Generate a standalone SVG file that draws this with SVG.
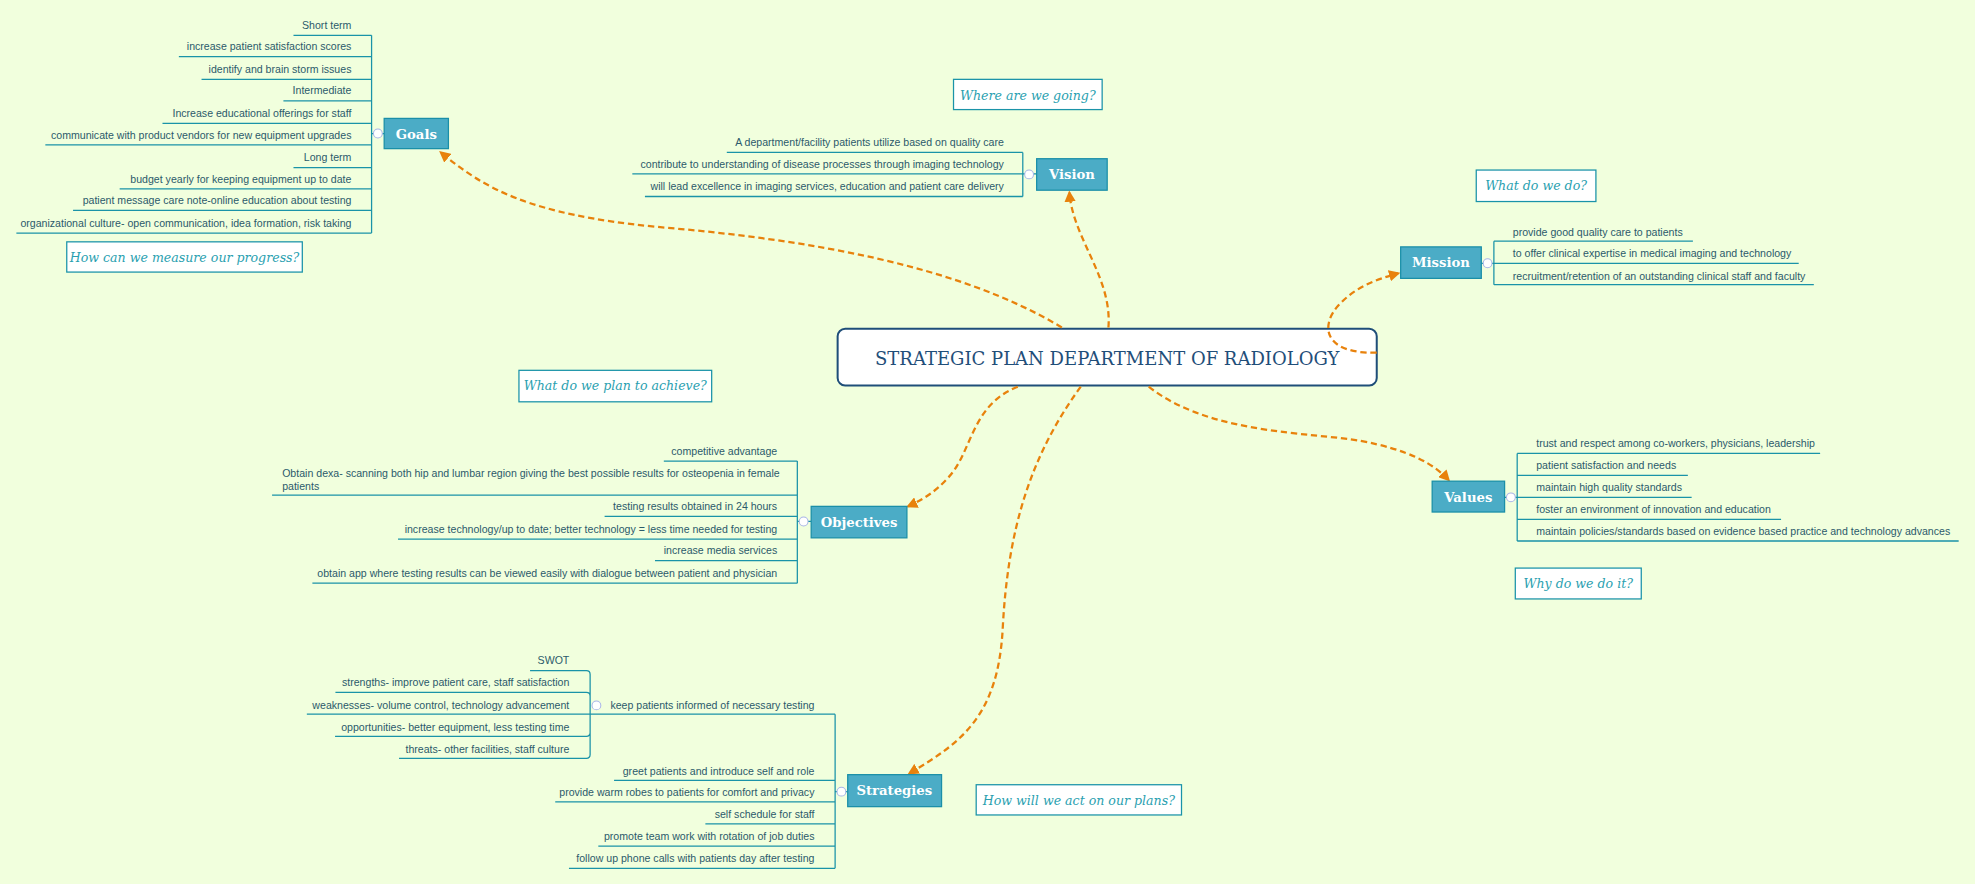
<svg xmlns="http://www.w3.org/2000/svg" width="1975" height="884" viewBox="0 0 1975 884">
<defs>
<marker id="ah" viewBox="0 0 10 10" refX="8" refY="5" markerWidth="5" markerHeight="5" orient="auto-start-reverse"><path d="M0,0L10,5L0,10z" fill="#e8820c"/></marker>
<style>
.t{font-family:"Liberation Sans",Arial,sans-serif;font-size:8.4px;fill:#2b5a6b}
.e{text-anchor:end}
.ln{stroke:#1a93a8;stroke-width:1;fill:none}
.nb{fill:#4bacc6;stroke:#1a8fa8;stroke-width:1}
.nt{font-family:"DejaVu Serif","Liberation Serif",serif;font-weight:bold;font-size:10.5px;fill:#fff;text-anchor:middle}
.qb{fill:#fff;stroke:#1a93a8;stroke-width:1}
.qt{font-family:"DejaVu Serif","Liberation Serif",serif;font-style:italic;font-size:10px;fill:#2a9fb0;text-anchor:middle}
.cc{fill:#fff;stroke:#a8b4e8;stroke-width:0.8}
.cn{stroke:#e8820c;stroke-width:1.8;fill:none;stroke-dasharray:5,3;marker-end:url(#ah)}
</style>
</defs>
<rect width="1975" height="884" fill="#f1ffdd"/>
<g transform="scale(1.2596)">
<g id="root">
<rect x="665" y="261" width="428" height="45" rx="6" fill="#fff" stroke="#1f4e79" stroke-width="1.6"/>
<text x="879" y="290" text-anchor="middle" font-family="DejaVu Serif,Liberation Serif,serif" font-size="14.3" fill="#1f4e79">STRATEGIC PLAN DEPARTMENT OF RADIOLOGY</text>
</g>
<g id="connectors">
<path class="cn" d="M843,260 C760,210 640,190 520,180 C420,170 385,150 350,121"/>
<path class="cn" d="M880,260 C883,220 852,190 849,153"/>
<path class="cn" d="M1093,280 C1050,281 1048,258 1063,242 C1076,228 1092,222 1110,217"/>
<path class="cn" d="M912,307 C960,345 1040,343 1080,350 C1118,357 1138,368 1150,381"/>
<path class="cn" d="M808,307 C770,322 772,360 752,380 C742,391 732,397 721,402"/>
<path class="cn" d="M858,307 C818,362 800,420 796,500 C792,570 762,590 722,614"/>
</g>
<g id="goals">
<path class="ln" d="M295,28V185M233,28H295M142,45H295M160,63H295M225,80H295M129,98H295M36,115H295M233,133H295M95,150H295M58,167H295M13,185H295M295,106H305"/>
<circle class="cc" cx="300" cy="106" r="3.5"/>
<rect class="nb" x="305" y="94" width="51" height="24"/><text class="nt" x="330.5" y="110">Goals</text>
<g class="t e">
<text x="279" y="23">Short term</text>
<text x="279" y="40">increase patient satisfaction scores</text>
<text x="279" y="58">identify and brain storm issues</text>
<text x="279" y="75">Intermediate</text>
<text x="279" y="93">Increase educational offerings for staff</text>
<text x="279" y="110">communicate with product vendors for new equipment upgrades</text>
<text x="279" y="128">Long term</text>
<text x="279" y="145">budget yearly for keeping equipment up to date</text>
<text x="279" y="162">patient message care note-online education about testing</text>
<text x="279" y="180">organizational culture- open communication, idea formation, risk taking</text>
</g>
</g>
<g id="q-goals"><rect class="qb" x="53" y="192" width="187" height="24"/><text class="qt" x="146.5" y="208">How can we measure our progress?</text></g>
<g id="vision">
<path class="ln" d="M812,121V156M577,121H812M502,138H823M512,156H812"/>
<circle class="cc" cx="817" cy="138.5" r="3.5"/>
<rect class="nb" x="823" y="126" width="56" height="25"/><text class="nt" x="851" y="142">Vision</text>
<g class="t e">
<text x="797" y="116">A department/facility patients utilize based on quality care</text>
<text x="797" y="133">contribute to understanding of disease processes through imaging technology</text>
<text x="797" y="151">will lead excellence in imaging services, education and patient care delivery</text>
</g>
</g>
<g id="q-vision"><rect class="qb" x="757" y="63" width="118" height="24"/><text class="qt" x="816" y="79">Where are we going?</text></g>
<g id="mission">
<path class="ln" d="M1186,191.5V226M1186,191.5H1344M1176,209H1428M1186,226H1440"/>
<circle class="cc" cx="1181" cy="209" r="3.5"/>
<rect class="nb" x="1112" y="196" width="64" height="25"/><text class="nt" x="1144" y="212">Mission</text>
<g class="t">
<text x="1201" y="187">provide good quality care to patients</text>
<text x="1201" y="204">to offer clinical expertise in medical imaging and technology</text>
<text x="1201" y="222">recruitment/retention of an outstanding clinical staff and faculty</text>
</g>
</g>
<g id="q-mission"><rect class="qb" x="1172" y="135" width="95" height="25"/><text class="qt" x="1219.5" y="151">What do we do?</text></g>
<g id="values">
<path class="ln" d="M1204.5,360V429.5M1204.5,360H1445M1204.5,377.4H1340M1194.5,394.8H1343M1204.5,412.3H1414M1204.5,429.5H1555"/>
<circle class="cc" cx="1199.5" cy="394.8" r="3.5"/>
<rect class="nb" x="1137" y="382" width="57.5" height="24.5"/><text class="nt" x="1165.7" y="398.5">Values</text>
<g class="t">
<text x="1219.6" y="355">trust and respect among co-workers, physicians, leadership</text>
<text x="1219.6" y="372.5">patient satisfaction and needs</text>
<text x="1219.6" y="390">maintain high quality standards</text>
<text x="1219.6" y="407.5">foster an environment of innovation and education</text>
<text x="1219.6" y="425">maintain policies/standards based on evidence based practice and technology advances</text>
</g>
</g>
<g id="q-values"><rect class="qb" x="1203" y="451" width="100" height="24.5"/><text class="qt" x="1253" y="467">Why do we do it?</text></g>
<g id="objectives">
<path class="ln" d="M633,366V463M527,366H633M216,393H633M480,410H633M316,428H633M520,445H633M248,463H633M633,414H644"/>
<circle class="cc" cx="638" cy="414" r="3.5"/>
<rect class="nb" x="644" y="402" width="76" height="25"/><text class="nt" x="682" y="418">Objectives</text>
<g class="t">
<text class="e" x="617" y="361">competitive advantage</text>
<text x="224" y="379">Obtain dexa- scanning both hip and lumbar region giving the best possible results for osteopenia in female</text>
<text x="224" y="389">patients</text>
<text class="e" x="617" y="405">testing results obtained in 24 hours</text>
<text class="e" x="617" y="423">increase technology/up to date; better technology = less time needed for testing</text>
<text class="e" x="617" y="440">increase media services</text>
<text class="e" x="617" y="458">obtain app where testing results can be viewed easily with dialogue between patient and physician</text>
</g>
</g>
<g id="q-objectives"><rect class="qb" x="412" y="294" width="153" height="25"/><text class="qt" x="488.5" y="310">What do we plan to achieve?</text></g>
<g id="strategies">
<path class="ln" d="M663,567V689.4M243.6,567H663M487.5,619.5H663M440.8,636.7H663M560,654H663M475,671.7H663M451.7,689.4H663M663,628.5H673"/>
<path class="ln" d="M420.8,532.5H465.5Q468.5,532.5 468.5,535.5V599Q468.5,602 465.5,602H316.8M266.3,549.7H465.5Q468.5,549.7 468.5,552.7M266,584.6H465.5Q468.5,584.6 468.5,581.6"/>
<circle class="cc" cx="668" cy="628.5" r="3.5"/>
<circle class="cc" cx="473.5" cy="560" r="3.5"/>
<rect class="nb" x="673" y="615" width="74.5" height="25.4"/><text class="nt" x="710" y="631.5">Strategies</text>
<g class="t e">
<text x="452" y="527">SWOT</text>
<text x="452" y="545">strengths- improve patient care, staff satisfaction</text>
<text x="452" y="562.5">weaknesses- volume control, technology advancement</text>
<text x="452" y="580">opportunities- better equipment, less testing time</text>
<text x="452" y="597.5">threats- other facilities, staff culture</text>
<text x="646.6" y="562.5">keep patients informed of necessary testing</text>
<text x="646.6" y="615">greet patients and introduce self and role</text>
<text x="646.6" y="632">provide warm robes to patients for comfort and privacy</text>
<text x="646.6" y="649.5">self schedule for staff</text>
<text x="646.6" y="667">promote team work with rotation of job duties</text>
<text x="646.6" y="684.5">follow up phone calls with patients day after testing</text>
</g>
</g>
<g id="q-strategies"><rect class="qb" x="775" y="623" width="163" height="24"/><text class="qt" x="856.5" y="639">How will we act on our plans?</text></g>
</g>
</svg>
